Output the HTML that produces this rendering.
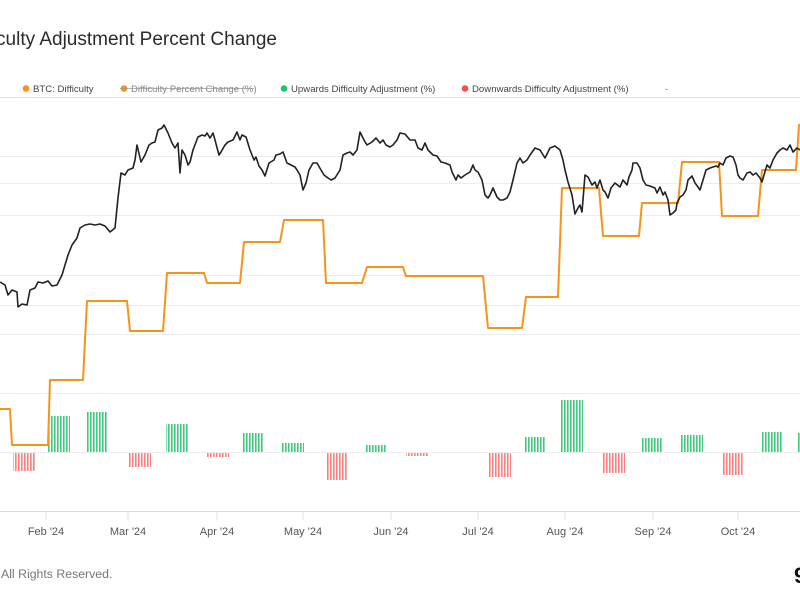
<!DOCTYPE html>
<html><head><meta charset="utf-8"><style>
html,body{margin:0;padding:0;background:#fff;}
svg{display:block;font-family:"Liberation Sans",sans-serif;}
</style></head><body>
<svg width="800" height="600" viewBox="0 0 800 600">
<defs>
<pattern id="pg" width="3" height="10" patternUnits="userSpaceOnUse"><rect x="0" y="0" width="1.6" height="10" fill="#3dcc7e"/></pattern>
<pattern id="pr" width="3" height="10" patternUnits="userSpaceOnUse"><rect x="0" y="0" width="1.6" height="10" fill="#ff7f7f"/></pattern>
</defs>
<text x="277" y="45" text-anchor="end" font-size="19" fill="#2b2b2b">Difficulty Adjustment Percent Change</text>
<g font-size="9.6" fill="#444">
<circle cx="26" cy="88.5" r="3.3" fill="#f7931a"/><text x="33" y="92">BTC: Difficulty</text>
<circle cx="124" cy="88.5" r="3.3" fill="#f7931a"/><text x="131" y="92" fill="#888">Difficulty Percent Change (%)</text>
<line x1="120" y1="88.5" x2="254" y2="88.5" stroke="#999" stroke-width="0.8"/>
<circle cx="284" cy="88.5" r="3.3" fill="#1ec46b"/><text x="291" y="92">Upwards Difficulty Adjustment (%)</text>
<circle cx="465" cy="88.5" r="3.3" fill="#ff4d4d"/><text x="472" y="92">Downwards Difficulty Adjustment (%)</text>
<text x="665" y="92" fill="#777">-</text>
</g>
<line x1="0" y1="97.5" x2="800" y2="97.5" stroke="#e2e2e2" stroke-width="1"/>
<g stroke="#ececec" stroke-width="1">
<line x1="0" y1="156.5" x2="800" y2="156.5"/>
<line x1="0" y1="183.5" x2="800" y2="183.5"/>
<line x1="0" y1="215.5" x2="800" y2="215.5"/>
<line x1="0" y1="275.5" x2="800" y2="275.5"/>
<line x1="0" y1="305.5" x2="800" y2="305.5"/>
<line x1="0" y1="334.5" x2="800" y2="334.5"/>
<line x1="0" y1="393.5" x2="800" y2="393.5"/>
<line x1="0" y1="452.5" x2="800" y2="452.5"/>
</g>
<line x1="0" y1="511.5" x2="800" y2="511.5" stroke="#ddd"/>
<g stroke="#e5e5e5"><line x1="46" y1="512" x2="46" y2="520"/><line x1="128" y1="512" x2="128" y2="520"/><line x1="217" y1="512" x2="217" y2="520"/><line x1="303" y1="512" x2="303" y2="520"/><line x1="391" y1="512" x2="391" y2="520"/><line x1="478" y1="512" x2="478" y2="520"/><line x1="565" y1="512" x2="565" y2="520"/><line x1="653" y1="512" x2="653" y2="520"/><line x1="738" y1="512" x2="738" y2="520"/></g>
<g font-size="11" fill="#555" text-anchor="middle">
<text x="46" y="535">Feb '24</text><text x="128" y="535">Mar '24</text><text x="217" y="535">Apr '24</text><text x="303" y="535">May '24</text><text x="391" y="535">Jun '24</text><text x="478" y="535">Jul '24</text><text x="565" y="535">Aug '24</text><text x="653" y="535">Sep '24</text><text x="738" y="535">Oct '24</text>
</g>
<g>
<rect x="13" y="453" width="22" height="18" fill="url(#pr)"/>
<rect x="48" y="416" width="22" height="36" fill="url(#pg)"/>
<rect x="86" y="412" width="22" height="40" fill="url(#pg)"/>
<rect x="129" y="453" width="22" height="14" fill="url(#pr)"/>
<rect x="166" y="424" width="22" height="28" fill="url(#pg)"/>
<rect x="206" y="453" width="23" height="4" fill="url(#pr)"/>
<rect x="242" y="433" width="22" height="19" fill="url(#pg)"/>
<rect x="282" y="443" width="22" height="9" fill="url(#pg)"/>
<rect x="326" y="453" width="22" height="27" fill="url(#pr)"/>
<rect x="365" y="445" width="22" height="7" fill="url(#pg)"/>
<rect x="406" y="453" width="22" height="3" fill="url(#pr)"/>
<rect x="489" y="453" width="22" height="24" fill="url(#pr)"/>
<rect x="524" y="437" width="22" height="15" fill="url(#pg)"/>
<rect x="561" y="400" width="22" height="52" fill="url(#pg)"/>
<rect x="603" y="453" width="22" height="20" fill="url(#pr)"/>
<rect x="641" y="438" width="22" height="14" fill="url(#pg)"/>
<rect x="681" y="435" width="22" height="17" fill="url(#pg)"/>
<rect x="722" y="453" width="22" height="22" fill="url(#pr)"/>
<rect x="761" y="432" width="22" height="20" fill="url(#pg)"/>
<rect x="798" y="433" width="3" height="19" fill="url(#pg)"/>
</g>
<polyline fill="none" stroke="#f7931a" stroke-width="2" stroke-linejoin="round" points="0,409 10,409 12,445 48,445 50,380 83,380 87,301 127,301 130,331 163,331 167,273 204,273 207,283 240,283 244,242 280,242 284,220 323,220 326,283 362,283 367,267 403,267 406,276 483,276 488,328 522,328 526,297 558,297 562,188 599,188 603,236 639,236 642,203 678,203 682,162 719,162 722,216 758,216 762,170 796,170 799,125 801,125"/>
<polyline fill="none" stroke="#222" stroke-width="1.6" stroke-linejoin="round" points="0,282 5,285 8,295 12,290 17,292 18,307 22,304 27,305 30,290 35,288 38,282 43,283 48,281 52,286 57,285 62,275 68,255 72,245 77,238 80,228 85,225 90,224 95,225 100,224 105,226 110,232 115,228 118,198 121,173 125,175 128,170 133,168 135,160 137,145 141,162 145,155 149,145 152,143 155,142 158,130 162,128 164,125 168,133 172,143 175,148 178,143 180,173 182,150 185,155 188,165 190,162 193,150 198,137 202,135 205,136 207,133 210,138 213,133 215,140 219,155 221,152 225,145 228,142 233,140 237,132 240,140 242,135 246,137 250,150 254,160 256,157 259,166 262,170 265,176 269,163 274,160 276,155 280,154 283,152 287,163 291,165 295,167 297,170 300,175 303,190 306,183 309,170 313,163 317,163 321,170 324,175 328,178 331,180 335,178 340,170 343,155 347,153 350,152 353,155 357,150 360,132 364,140 367,145 372,142 376,138 380,143 383,140 386,145 390,147 393,145 397,140 400,133 405,134 410,140 415,140 418,148 422,150 425,143 428,150 433,155 437,156 441,162 445,163 450,165 452,172 456,180 458,175 461,178 465,175 470,172 473,165 475,170 478,172 482,180 485,195 488,198 490,195 493,188 497,197 500,200 503,200 507,198 510,192 513,180 517,163 520,158 523,163 527,160 530,155 535,148 540,150 545,158 550,148 555,146 560,150 563,160 565,170 568,182 572,195 575,214 578,208 580,205 582,212 585,175 588,177 592,185 595,182 597,188 600,180 603,190 605,192 608,198 611,188 615,183 620,187 623,180 627,185 629,177 632,170 633,163 637,163 640,168 643,180 646,185 650,186 655,188 657,193 660,187 663,195 665,192 668,200 670,215 673,213 676,210 677,203 680,197 683,195 686,190 688,180 692,176 695,183 698,187 700,190 703,180 706,170 710,168 713,167 716,166 718,167 720,163 723,165 726,158 730,156 733,157 736,165 738,175 740,178 743,180 747,173 750,172 753,175 756,173 760,178 762,182 764,175 767,165 770,168 773,160 777,153 780,150 783,148 787,150 790,145 793,152 797,148 800,150"/>
<text x="1" y="578" font-size="12.3" fill="#777">All Rights Reserved.</text>
<text x="794" y="583" font-size="22" font-weight="bold" fill="#111">9</text>
</svg>
</body></html>
